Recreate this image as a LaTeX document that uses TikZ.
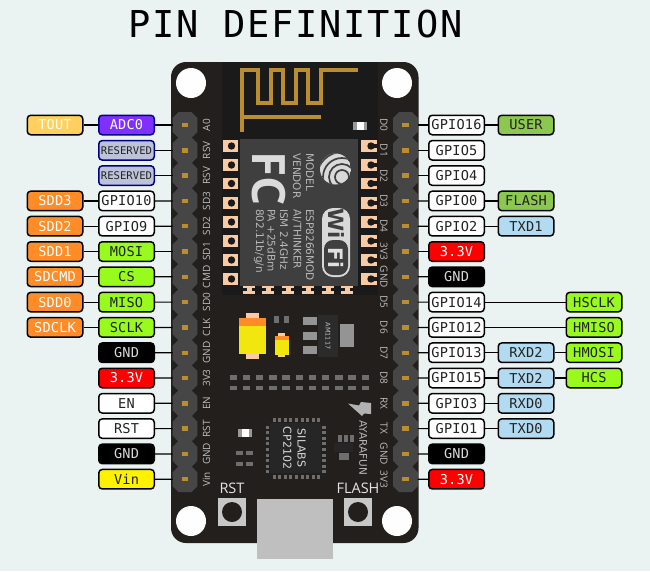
\documentclass[tikz,border=0pt]{standalone}
\usepackage{fontspec}
\setmainfont{Open Sans}
\newfontfamily\monof{DejaVu Sans Mono}
\newfontfamily\dejav{DejaVu Sans}
\definecolor{bgc}{HTML}{EBF2F2}
\definecolor{boardc}{HTML}{231F1D}
\definecolor{modc}{HTML}{1A1A1A}
\definecolor{shieldc}{HTML}{3F3F3F}
\definecolor{hdrc}{HTML}{464646}
\definecolor{goldc}{HTML}{B98D30}
\definecolor{peachc}{HTML}{F8CBA4}
\definecolor{greyp}{HTML}{6E6E6E}
\definecolor{orangec}{HTML}{FF8C26}
\definecolor{limec}{HTML}{99FA1E}
\definecolor{userc}{HTML}{8CC850}
\definecolor{bluec}{HTML}{B2DAF0}
\definecolor{toutc}{HTML}{FFD060}
\definecolor{adcc}{HTML}{7F30FF}
\definecolor{resc}{HTML}{BCC2D8}
\definecolor{txtc}{HTML}{222222}
\tikzset{
  x=1pt,y=-1pt,
  tag/.style={draw=black,line width=1.5pt,rounded corners=3.5pt,minimum width=55.5pt,minimum height=19.5pt,inner sep=0pt,font=\monof\fontsize{13.6}{14}\selectfont\addfontfeature{LetterSpace=1.5},text=txtc},
  whitetag/.style={tag,fill=white},
  orangetag/.style={tag,fill=orangec,text=white},
  limetag/.style={tag,fill=limec},
  usertag/.style={tag,fill=userc},
  bluetag/.style={tag,fill=bluec},
  redtag/.style={tag,fill=red,text=white},
  gndtag/.style={tag,fill=black,text=white!85!black,draw=black},
  yellowtag/.style={tag,fill=yellow},
  touttag/.style={tag,fill=toutc,text=white!90!yellow},
  adctag/.style={tag,fill=adcc,text=white,draw=blue!55!black},
  restag/.style={tag,fill=resc,draw=blue!50!black,font=\monof\fontsize{10.6}{11}\selectfont},
  wire/.style={line width=1.2pt,draw=black},
  pinname/.style={font=\fontsize{10}{11}\selectfont,text=white!75!black,inner sep=0pt},
  modtext/.style={font=\dejav\fontsize{10.5}{11}\selectfont,text=white!72!black,inner sep=0pt,anchor=west,rotate=-90},
  chiptext/.style={font=\dejav\fontsize{11}{12}\selectfont,text=white!85!black,inner sep=0pt,rotate=-90},
  btntext/.style={font=\fontsize{14.5}{15}\selectfont,text=white!90!black,inner sep=0pt},
  greypad/.style={fill=greyp,draw=none},
}
\begin{document}
\begin{tikzpicture}
\useasboundingbox (0,0) rectangle (650,571);
\fill[bgc] (0,0) rectangle (650,571);
\node[inner sep=0pt,font=\monof\fontsize{37}{38}\selectfont\addfontfeature{LetterSpace=5},text=black] (title) at (295.5,24) {PIN DEFINITION};
\fill[boardc,rounded corners=15pt] (171,62) rectangle (418.5,543);
\fill[white!75!black] (257,499) rectangle (333,559);
\fill[modc] (222,62) rectangle (378,295);
% holes
\foreach \hx/\hy in {191/83,397/83,191/521,397/521} \fill[white!97!bgc] (\hx,\hy) circle (15);
% antenna
\draw[goldc,line width=4pt,miter limit=10] (242.3,131.7) -- (242.3,70) -- (258.3,70) -- (258.3,103.3) -- (271,103.3) -- (271,70) -- (283.3,70) -- (283.3,103.3) -- (296,103.3) -- (296,70) -- (308.3,70) -- (308.3,103.3) -- (321,103.3) -- (321,70) -- (357.7,70);
\draw[goldc,line width=4pt] (242.3,117.3) -- (321,117.3);
% small LED top
\fill[white!60!black] (353,122) rectangle (367,129.5);
\fill[white] (357,122) rectangle (364,129.5);
% shield
\fill[shieldc] (240,138.5) rectangle (358,285.5);
% castellated pads
\foreach \py in {146,165,183.5,203,222,241,260,279}{
  \fill[peachc] (223,\py-5.7) rectangle (238,\py+5.7);
  \fill[modc] (231.5,\py) circle (3.7);
  \fill[peachc] (361,\py-5.7) rectangle (377,\py+5.7);
  \fill[modc] (371,\py) circle (3.7);
  \fill[modc] (373,\py-2.4) rectangle (377,\py+2.4);
}
\foreach \px in {249,268,288,308,328,347}{
  \fill[peachc] (\px-6,285.5) rectangle (\px+6,293.5);
  \fill[modc] (\px-6,288) rectangle (\px-2.5,291);
  \fill[modc] (\px+2.5,288) rectangle (\px+6,291);
}
% module markings
\node[inner sep=0pt,rotate=-90,font=\fontsize{46}{46}\selectfont\bfseries,text=white!86!black] (fclogo) at (269,179) {FC};
\node[modtext] (mt1) at (310,153) {MODEL};
\node[modtext] (mt2) at (297,153) {VENDOR};
\node[modtext] (mt3) at (310,209) {ESP8266MOD};
\node[modtext] (mt4) at (297,209) {AI/THINKER};
\node[modtext] (mt5) at (284,209) {ISM 2.4GHz};
\node[modtext] (mt6) at (271.5,209) {PA +25dBm};
\node[modtext] (mt7) at (259,209) {802.11b/g/n};
% espressif logo
\begin{scope}
\clip (335.5,169) circle (15.5);
\fill[white!85!black] (335.5,169) circle (15.5);
\foreach \r in {7,13,19,25} \draw[shieldc,line width=1.7pt] (342,177) circle (\r);
\end{scope}
% wifi logo
\fill[white!85!black,rounded corners=11pt] (322,208) rectangle (350,277);
\fill[shieldc,rounded corners=9pt] (324,240) -- (348,240) -- (348,275) -- (324,275) -- cycle;
\node[inner sep=0pt,rotate=-90,font=\dejav\fontsize{21}{21}\selectfont\bfseries,text=shieldc] (wi) at (336,224) {Wi};
\node[inner sep=0pt,rotate=-90,font=\dejav\fontsize{20}{20}\selectfont\bfseries,text=white!88!black] (fi) at (336,258) {Fi};
% capacitors
\fill[peachc!80!pink] (246,313) rectangle (259,359);
\fill[yellow!94!black] (239,318) rectangle (266,354);
\fill[orangec] (239,318) rectangle (266,326);
\fill[peachc!80!pink] (278,333) rectangle (285,357);
\fill[yellow!94!black] (275,336) rectangle (289,355);
\fill[orangec] (275,336) rectangle (289,340);
\fill[greypad] (274,316) rectangle (279,323);
\fill[greypad] (284,316) rectangle (289,323);
% AMS1117
\foreach \ry in {317,332,346} \fill[white!58!black] (303,\ry) rectangle (317,\ry+8);
\fill[white!58!black] (340,324) rectangle (354,347);
\fill[white!17!black] (318,315) rectangle (338,357);
\node[inner sep=0pt,rotate=-90,font=\dejav\fontsize{6.5}{7}\selectfont,text=white!75!black] (ams) at (328,336) {AM1117};
% pad row
\foreach \i in {0,...,10}{
  \fill[greypad] ({229.5+13.2*\i},375) rectangle ({237+13.2*\i},379.5);
  \fill[greypad] ({229.5+13.2*\i},385.5) rectangle ({237+13.2*\i},389.5);
}
% lightning logo
\fill[white!70!black] (348,403.5) -- (359,405.5) -- (361,402) -- (371,403) -- (371,414) -- (364,413.5) -- (362,416) -- cycle;
\node[inner sep=0pt,rotate=-90,font=\dejav\fontsize{10.5}{11}\selectfont,text=white!72!black] (aya) at (363,448) {AYARAFUN};
% CP2102
\fill[black!85!white] (270,423) rectangle (321,473);
\foreach \i in {0,...,8}{
  \fill[greypad] ({272.5+5.6*\i},418) rectangle ({275.5+5.6*\i},422);
  \fill[greypad] ({272.5+5.6*\i},475) rectangle ({275.5+5.6*\i},479);
}
\foreach \i in {0,...,8}{
  \fill[greypad] (265.5,{425.5+5.6*\i}) rectangle (269,{428.5+5.6*\i});
  \fill[greypad] (322,{425.5+5.6*\i}) rectangle (325.5,{428.5+5.6*\i});
}
\node[chiptext] (sil) at (301.5,448) {SILABS};
\node[chiptext] (cp) at (287.5,448) {CP2102};
% SOT
\foreach \sx/\sw in {338/4,343.5/4.5,349.5/4} \fill[greypad] (\sx,435) rectangle (\sx+\sw,442);
\fill[white!15!black] (334,443) rectangle (353,452);
\fill[greypad] (339,453) rectangle (349,459.5);
% LED lower and small pads
\fill[white!60!black] (238,429) rectangle (252,437);
\fill[white] (242,429) rectangle (249,437);
\foreach \sx in {236,246}{
  \fill[greypad] (\sx,451) rectangle (\sx+7,455);
  \fill[greypad] (\sx,462) rectangle (\sx+7,465.5);
}
% buttons
\foreach \bx in {232,358}{
  \fill[white!78!black] (\bx-14,498) rectangle (\bx+14,526);
  \fill[boardc] (\bx,512) circle (10);
}
\node[btntext] (rstt) at (232,488) {RST};
\node[btntext] (flasht) at (358,488) {FLASH};
% headers
\foreach \hx in {185,405.5}{
  \foreach \i in {0,...,14}{
    \pgfmathsetmacro{\hy}{125+25.3*\i}
    \fill[hdrc] (\hx-6.5,\hy-13) -- (\hx+6.5,\hy-13) -- (\hx+12.3,\hy-7) -- (\hx+12.3,\hy+7) -- (\hx+6.5,\hy+13) -- (\hx-6.5,\hy+13) -- (\hx-12.3,\hy+7) -- (\hx-12.3,\hy-7) -- cycle;
    \fill[goldc] (\hx-3.2,\hy-2.2) rectangle (\hx+3.2,\hy+2.2);
  }
}
% pin names
\foreach \nm [count=\i from 0] in {A0,RSV,RSV,SD3,SD2,SD1,CMD,SD0,CLK,GND,3V3,EN,RST,GND,Vin}{
  \pgfmathsetmacro{\hy}{125+25.3*\i}
  \node[pinname,rotate=90] (pl\i) at (206.5,\hy) {\nm};
}
\foreach \nm [count=\i from 0] in {D0,D1,D2,D3,D4,3V3,GND,D5,D6,D7,D8,RX,TX,GND,3V3}{
  \pgfmathsetmacro{\hy}{125+25.3*\i}
  \node[pinname,rotate=-90] (pr\i) at (384,\hy) {\nm};
}
% header end points on the board edges
\foreach \i in {0,...,14}{
  \pgfmathsetmacro{\hy}{125+25.3*\i}
  \coordinate (LP\i) at (172.5,\hy);
  \coordinate (RP\i) at (417.5,\hy);
}
% left labels
\node[adctag] (a0) at (126.5,125) {ADC0};
\node[touttag] (b0) at (55,125) {TOUT};
\node[restag] (a1) at (126.5,150.3) {RESERVED};
\node[restag] (a2) at (126.5,175.6) {RESERVED};
\node[whitetag] (a3) at (126.5,200.9) {GPIO10};
\node[orangetag] (b3) at (55,200.9) {SDD3};
\node[whitetag] (a4) at (126.5,226.2) {GPIO9};
\node[orangetag] (b4) at (55,226.2) {SDD2};
\node[limetag] (a5) at (126.5,251.5) {MOSI};
\node[orangetag] (b5) at (55,251.5) {SDD1};
\node[limetag] (a6) at (126.5,276.8) {CS};
\node[orangetag] (b6) at (55,276.8) {SDCMD};
\node[limetag] (a7) at (126.5,302.1) {MISO};
\node[orangetag] (b7) at (55,302.1) {SDD0};
\node[limetag] (a8) at (126.5,327.4) {SCLK};
\node[orangetag] (b8) at (55,327.4) {SDCLK};
\node[gndtag] (a9) at (126.5,352.7) {GND};
\node[redtag] (a10) at (126.5,378) {3.3V};
\node[whitetag] (a11) at (126.5,403.3) {EN};
\node[whitetag] (a12) at (126.5,428.6) {RST};
\node[gndtag] (a13) at (126.5,453.9) {GND};
\node[yellowtag] (a14) at (126.5,479.2) {Vin};
\foreach \i in {0,...,14} \draw[wire] (a\i.east) -- (LP\i);
\foreach \i in {0,3,4,5,6,7,8} \draw[wire] (b\i.east) -- (a\i.west);
% right labels
\node[whitetag] (c0) at (456.5,125) {GPIO16};
\node[usertag] (d0) at (526,125) {USER};
\node[whitetag] (c1) at (456.5,150.3) {GPIO5};
\node[whitetag] (c2) at (456.5,175.6) {GPIO4};
\node[whitetag] (c3) at (456.5,200.9) {GPIO0};
\node[usertag] (d3) at (526,200.9) {FLASH};
\node[whitetag] (c4) at (456.5,226.2) {GPIO2};
\node[bluetag] (d4) at (526,226.2) {TXD1};
\node[redtag] (c5) at (456.5,251.5) {3.3V};
\node[gndtag] (c6) at (456.5,276.8) {GND};
\node[whitetag] (c7) at (456.5,302.1) {GPIO14};
\node[limetag] (e7) at (594,302.1) {HSCLK};
\node[whitetag] (c8) at (456.5,327.4) {GPIO12};
\node[limetag] (e8) at (594,327.4) {HMISO};
\node[whitetag] (c9) at (456.5,352.7) {GPIO13};
\node[bluetag] (d9) at (526,352.7) {RXD2};
\node[limetag] (e9) at (594,352.7) {HMOSI};
\node[whitetag] (c10) at (456.5,378) {GPIO15};
\node[bluetag] (d10) at (526,378) {TXD2};
\node[limetag] (e10) at (594,378) {HCS};
\node[whitetag] (c11) at (456.5,403.3) {GPIO3};
\node[bluetag] (d11) at (526,403.3) {RXD0};
\node[whitetag] (c12) at (456.5,428.6) {GPIO1};
\node[bluetag] (d12) at (526,428.6) {TXD0};
\node[gndtag] (c13) at (456.5,453.9) {GND};
\node[redtag] (c14) at (456.5,479.2) {3.3V};
\foreach \i in {0,...,14} \draw[wire] (RP\i) -- (c\i.west);
\foreach \i in {0,3,4,9,10,11,12} \draw[wire] (c\i.east) -- (d\i.west);
\foreach \i in {9,10} \draw[wire] (d\i.east) -- (e\i.west);
\foreach \i in {7,8} \draw[wire] (c\i.east) -- (e\i.west);
\end{tikzpicture}
\end{document}
